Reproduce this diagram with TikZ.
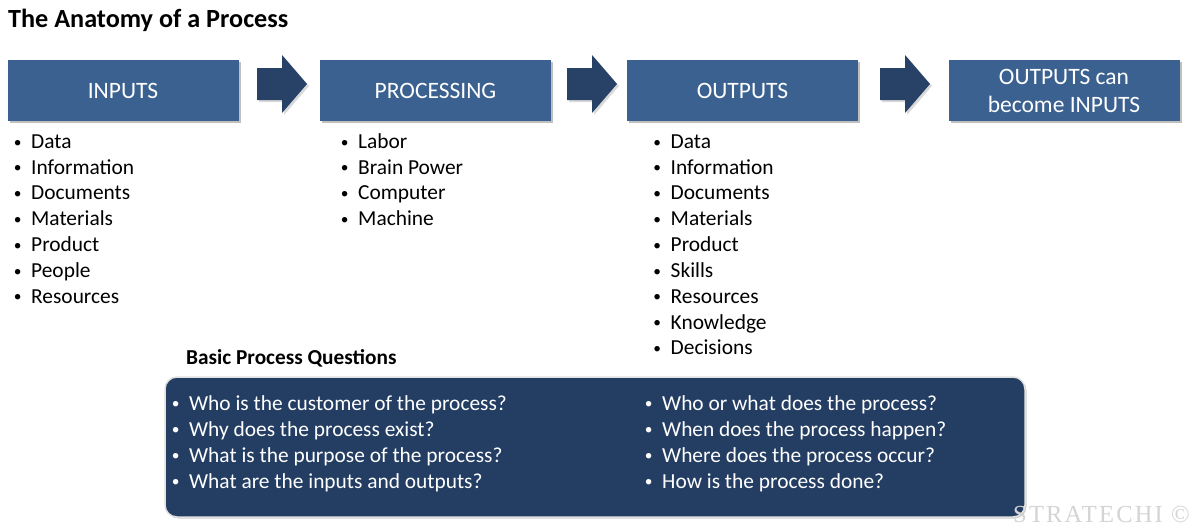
\documentclass[tikz,border=0pt]{standalone}
\usepackage{fontspec}
\setmainfont{Carlito}
\newfontfamily\wmfont[LetterSpace=9]{Liberation Serif}
\usetikzlibrary{shadows}
\definecolor{boxblue}{RGB}{59,97,145}
\definecolor{arrowblue}{RGB}{40,66,103}
\definecolor{navy}{RGB}{36,62,99}
\definecolor{wmgray}{RGB}{212,212,212}
\newcommand{\bul}[1]{\llap{\makebox[27pt]{\raisebox{1.2pt}{\scalebox{0.72}{•}}}}#1}
\begin{document}
\begin{tikzpicture}[x=1pt,y=-1pt,
  header/.style={fill=boxblue, text=white, minimum width=231pt, minimum height=61pt,
    inner sep=0pt, align=center, font=\fontsize{23.5}{28}\selectfont,
    drop shadow={shadow xshift=2pt, shadow yshift=-2pt, opacity=0.25, fill=black}},
  item/.style={anchor=base west, inner sep=0pt, font=\fontsize{21.4}{24}\selectfont},
  qitem/.style={item, text=white},
  bigarrow/.pic={
    \fill[black, opacity=0.15] (2,70) -- (27,70) -- (27,57) -- (52,86) -- (27,115) -- (27,102) -- (2,102) -- cycle;
    \fill[arrowblue] (0,68) -- (25,68) -- (25,55) -- (50,84) -- (25,113) -- (25,100) -- (0,100) -- cycle;
  }]
\useasboundingbox (0,0) rectangle (1198,528);
\fill[white] (0,0) rectangle (1198,528);

% title
\node[anchor=base west, inner sep=0pt, font=\bfseries\fontsize{26.2}{30}\selectfont] (title) at (8,27) {The Anatomy of a Process};

% header boxes
\node[header] (inputs) at (123,90.5) {INPUTS};
\node[header] (processing) at (435.5,90.5) {PROCESSING};
\node[header] (outputs) at (742.5,90.5) {OUTPUTS};
\node[header] (reuse) at (1064,90.5) {OUTPUTS can\\become INPUTS};

% arrows
\pic at (257,0) {bigarrow};
\pic at (567,0) {bigarrow};
\pic at (880,0) {bigarrow};

% lists
\foreach \t [count=\i from 0] in {Data,Information,Documents,Materials,Product,People,Resources}
  \node[item] (in\i) at (31,148.2+25.83*\i) {\bul{\t}};
\foreach \t [count=\i from 0] in {Labor,Brain Power,Computer,Machine}
  \node[item] (pr\i) at (358,148.2+25.83*\i) {\bul{\t}};
\foreach \t [count=\i from 0] in {Data,Information,Documents,Materials,Product,Skills,Resources,Knowledge,Decisions}
  \node[item] (out\i) at (670.5,148.2+25.83*\i) {\bul{\t}};

% questions
\node[anchor=base west, inner sep=0pt, font=\bfseries\fontsize{21.3}{24}\selectfont] (qtitle) at (186,364) {Basic Process Questions};
\draw[wmgray!70, line width=1.5pt, fill=navy, rounded corners=12pt,
  drop shadow={shadow xshift=1.5pt, shadow yshift=-1.5pt, opacity=0.2, fill=black}]
  (165,377) rectangle (1025,517);
\foreach \t [count=\i from 0] in {Who is the customer of the process?,Why does the process exist?,What is the purpose of the process?,What are the inputs and outputs?}
  \node[qitem] (ql\i) at (189,410+26*\i) {\bul{\t}};
\foreach \t [count=\i from 0] in {Who or what does the process?,When does the process happen?,Where does the process occur?,How is the process done?}
  \node[qitem] (qr\i) at (662,410+26*\i) {\bul{\t}};

% watermark
\node[anchor=base west, inner sep=0pt, text=wmgray, font=\wmfont\fontsize{24.5}{26}\selectfont] (wm) at (1013,522) {STRATECHI ©};
\end{tikzpicture}
\end{document}
